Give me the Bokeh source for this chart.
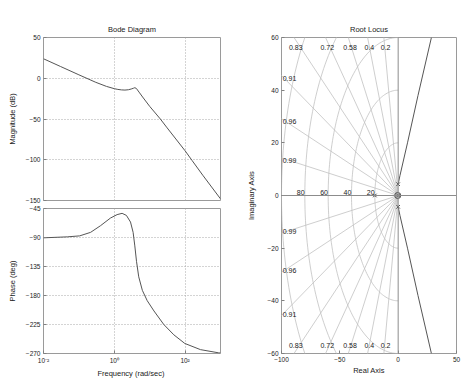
import numpy as np
from bokeh.plotting import figure
from bokeh.layouts import row, column
from bokeh.models import FixedTicker, Range1d, Span
from bokeh.core.properties import value
from bokeh.embed import file_html
from bokeh.resources import INLINE

# ---------------- data ----------------
mag_freq = [0.01, 0.03, 0.1, 0.3, 0.6, 1.0, 1.26, 1.6, 2.0, 2.5, 3.0, 3.5, 3.8,
            4.2, 5.0, 6.3, 10, 20, 30, 100, 158, 316, 1000]
mag_db = [23.9, 14.5, 4.2, -5.0, -10.0, -12.8, -13.7, -14.3, -14.5, -14.1, -13.2,
          -12.2, -11.6, -12.5, -17.0, -23.0, -34.5, -50.0, -60.0, -89.0, -101.0,
          -119.0, -148.0]

phase_freq = [0.01, 0.047, 0.105, 0.214, 0.41, 0.78, 1.2, 1.66, 2.2, 2.87, 3.4,
              3.8, 4.24, 4.9, 6.2, 8.5, 13.2, 25, 48, 98, 272, 890, 1000]
phase_deg = [-90.5, -89.0, -87.5, -82.0, -71.6, -59.8, -54.5, -52.5, -55.7, -66.0,
             -82.0, -103.0, -127.0, -151.0, -172.0, -188.0, -204.0, -225.0, -241.0,
             -254.4, -264.0, -269.0, -269.3]

freq_ticks = [0.01, 1, 100]
freq_tick_labels = ["10\u207b\u00b2", "10\u2070", "10\u00b2"]
mag_ticks = [-150, -100, -50, 0, 50]
phase_ticks = [-270, -225, -180, -135, -90, -45]

rl_x_ticks = [-100, -50, 0, 50]
rl_y_ticks = [-60, -40, -20, 0, 20, 40, 60]

zeta_values = [0.2, 0.4, 0.58, 0.72, 0.83, 0.91, 0.96, 0.99]
zeta_labels = ["0.2", "0.4", "0.58", "0.72", "0.83", "0.91", "0.96", "0.99"]
wn_values = [20, 40, 60, 80, 100]
wn_labels = ["20", "40", "60", "80"]

locus_up_re = [0, 1.5, 8, 17, 28.5]
locus_up_im = [4.3, 7.5, 20, 38, 60]
locus_dn_re = [0, 1.5, 8, 17, 28.5]
locus_dn_im = [-4.3, -7.5, -20, -38, -60]
locus_real_re = [-20, -100]
locus_real_im = [0, 0]
poles_re = [0, 0, 0, -20]
poles_im = [0, 4.3, -4.3, 0]
zeros_re = [-0.4]
zeros_im = [0]

# ---------------- styling helpers ----------------
FONT = "Liberation Sans"
TXT = "#1a1a1a"
BOX = "#9a9a9a"
CURVE = "#555555"
SG = "#c2c2c2"


def style_axis(ax, label_std=5):
    ax.axis_line_color = None
    ax.major_tick_in = 3
    ax.major_tick_out = 0
    ax.minor_tick_in = 0
    ax.minor_tick_out = 0
    ax.major_tick_line_color = "#808080"
    ax.major_label_text_font = FONT
    ax.major_label_text_font_size = "6.5px"
    ax.major_label_text_color = TXT
    ax.major_label_standoff = 3
    ax.axis_label_text_font = FONT
    ax.axis_label_text_font_size = "7.5px"
    ax.axis_label_text_font_style = "normal"
    ax.axis_label_text_color = TXT
    ax.axis_label_standoff = label_std


def base_fig(**kw):
    p = figure(output_backend="svg", toolbar_location=None, **kw)
    p.outline_line_color = BOX
    p.outline_line_width = 1
    p.background_fill_color = "white"
    p.border_fill_color = "white"
    return p


def style_title(p):
    p.title.text_font = FONT
    p.title.text_font_size = "7.5px"
    p.title.text_font_style = "normal"
    p.title.text_color = TXT
    p.title.align = "center"
    p.title.standoff = 8


# ---------------- magnitude ----------------
mag = base_fig(width=230, height=204, x_axis_type="log",
               x_range=Range1d(0.01, 1000), y_range=Range1d(-150, 50),
               min_border_left=43, min_border_right=10, min_border_top=37,
               min_border_bottom=4, title="Bode Diagram")
style_title(mag)
mag.line(mag_freq, mag_db, line_color=CURVE, line_width=1)
mag.xaxis.visible = False
mag.xaxis.ticker = FixedTicker(ticks=freq_ticks)
mag.yaxis.ticker = FixedTicker(ticks=mag_ticks)
style_axis(mag.yaxis[0], 6)
mag.yaxis.axis_label = "Magnitude (dB)"
for g in (mag.xgrid[0], mag.ygrid[0]):
    g.grid_line_color = "#a8a8a8"
    g.grid_line_dash = "1 2"
    g.grid_line_width = 1

# ---------------- phase ----------------
ph = base_fig(width=230, height=177, x_axis_type="log",
              x_range=Range1d(0.01, 1000), y_range=Range1d(-270, -45),
              min_border_left=43, min_border_right=10, min_border_top=4,
              min_border_bottom=28)
ph.line(phase_freq, phase_deg, line_color=CURVE, line_width=1)
ph.xaxis.ticker = FixedTicker(ticks=freq_ticks)
ph.xaxis.major_label_overrides = dict(zip(freq_ticks, freq_tick_labels))
ph.yaxis.ticker = FixedTicker(ticks=phase_ticks)
style_axis(ph.xaxis[0], 2)
style_axis(ph.yaxis[0], 6)
ph.xaxis.axis_label = "Frequency  (rad/sec)"
ph.yaxis.axis_label = "Phase (deg)"
for g in (ph.xgrid[0], ph.ygrid[0]):
    g.grid_line_color = "#a8a8a8"
    g.grid_line_dash = "1 2"
    g.grid_line_width = 1

# ---------------- root locus ----------------
rl = base_fig(width=236, height=381, x_range=Range1d(-100, 50),
              y_range=Range1d(-60, 60), min_border_left=51, min_border_right=10,
              min_border_top=37, min_border_bottom=28, title="Root Locus")
style_title(rl)
rl.grid.visible = False
rl.xaxis.ticker = FixedTicker(ticks=rl_x_ticks)
rl.yaxis.ticker = FixedTicker(ticks=rl_y_ticks)
style_axis(rl.xaxis[0], 1)
style_axis(rl.yaxis[0], 8)
rl.xaxis.axis_label = "Real Axis"
rl.yaxis.axis_label = "Imaginary Axis"

# sgrid: damping rays
R = 300.0
for z in zeta_values:
    s = np.sqrt(1 - z * z)
    rl.line([0, -R * z], [0, R * s], line_color=SG, line_width=0.8)
    rl.line([0, -R * z], [0, -R * s], line_color=SG, line_width=0.8)
# sgrid: natural frequency arcs
th = np.linspace(np.pi / 2, 3 * np.pi / 2, 120)
for wn in wn_values:
    rl.line(wn * np.cos(th), wn * np.sin(th), line_color=SG, line_width=0.8)
# axes lines (zeta = 0 and zeta = 1)
rl.add_layout(Span(location=0, dimension="width", line_color="#8c8c8c", line_width=1))
rl.add_layout(Span(location=0, dimension="height", line_color="#8c8c8c", line_width=1))

# zeta labels
top_x, top_y, top_t = [], [], []
left_x, left_y, left_t = [], [], []
for z, t in zip(zeta_values, zeta_labels):
    slope = np.sqrt(1 - z * z) / z
    xc = -60.0 / slope
    if xc >= -100:
        top_x += [xc + 1.5, xc + 1.5]
        top_y += [56.3, -57.1]
        top_t += [t, t]
    else:
        yc = 100.0 * slope
        left_x += [-99, -99]
        left_y += [yc - 1.0, -yc + 0.5]
        left_t += [t, t]
lab_kw = dict(text_font=value(FONT), text_font_size="7px", text_color=TXT,
              text_baseline="middle")
rl.text(top_x, top_y, text=top_t, text_align="center", **lab_kw)
rl.text(left_x, left_y, text=left_t, text_align="left", **lab_kw)
wx = [-w - 3.5 for w in wn_values[:len(wn_labels)]]
rl.text(wx, [0.3] * len(wx), text=wn_labels, text_align="center",
        text_font=value(FONT), text_font_size="7px", text_color=TXT,
        text_baseline="bottom")

# locus branches
rl.line(locus_up_re, locus_up_im, line_color=CURVE, line_width=1)
rl.line(locus_dn_re, locus_dn_im, line_color=CURVE, line_width=1)
rl.line(locus_real_re, locus_real_im, line_color=CURVE, line_width=1)
rl.scatter(poles_re, poles_im, marker="x", size=5, line_color="#444444", line_width=1)
rl.scatter(zeros_re, zeros_im, marker="circle", size=6, fill_color=None,
           line_color="#444444", line_width=1)

layout = row(column(mag, ph), rl)
open("out.html", "w").write(file_html(layout, INLINE))
